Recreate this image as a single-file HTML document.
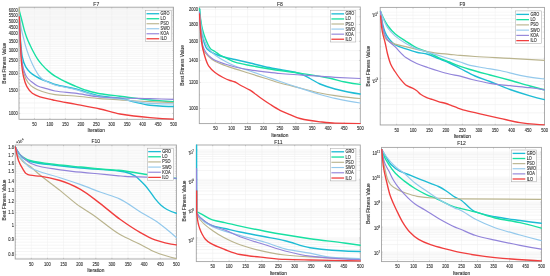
<!DOCTYPE html>
<html><head><meta charset="utf-8"><title>Convergence curves</title><style>html,body{margin:0;padding:0;background:#fff;width:550px;height:276px;overflow:hidden}svg{display:block}</style></head><body>
<svg width="550" height="276" viewBox="0 0 550 276" font-family="'Liberation Sans', Arial, sans-serif" stroke-linecap="butt">
<style>text{stroke:#333;stroke-width:0.1px}</style>
<rect width="550" height="276" fill="#fff"/>
<clipPath id="c1"><rect x="18.30" y="6.50" width="155.90" height="113.50"/></clipPath>
<path d="M19.00,107.92H173.50M19.00,102.92H173.50M19.00,98.31H173.50M19.00,94.05H173.50M19.00,86.37H173.50M19.00,82.89H173.50M19.00,79.60H173.50M19.00,76.49H173.50M19.00,70.74H173.50M19.00,68.06H173.50M19.00,65.51H173.50M19.00,63.06H173.50M19.00,58.46H173.50M19.00,56.29H173.50M19.00,54.20H173.50M19.00,52.18H173.50M19.00,48.34H173.50M19.00,46.52H173.50M19.00,44.75H173.50M19.00,43.03H173.50M19.00,39.75H173.50M19.00,38.17H173.50M19.00,36.64H173.50M19.00,35.14H173.50M19.00,32.27H173.50M19.00,30.88H173.50M19.00,29.53H173.50M19.00,28.21H173.50M19.00,25.65H173.50M19.00,24.41H173.50M19.00,23.20H173.50M19.00,22.02H173.50M19.00,19.72H173.50M19.00,18.60H173.50M19.00,17.51H173.50M19.00,16.43H173.50M19.00,14.34H173.50M19.00,13.32H173.50M19.00,12.32H173.50M19.00,11.34H173.50M19.00,9.42H173.50M19.00,8.49H173.50M19.00,7.57H173.50" stroke="#eaeaea" stroke-width="0.5" fill="none"/>
<path d="M34.45,7.20V119.30M49.90,7.20V119.30M65.35,7.20V119.30M80.80,7.20V119.30M96.25,7.20V119.30M111.70,7.20V119.30M127.15,7.20V119.30M142.60,7.20V119.30M158.05,7.20V119.30M19.00,113.40H173.50M19.00,90.09H173.50M19.00,73.54H173.50M19.00,60.71H173.50M19.00,50.23H173.50M19.00,41.37H173.50M19.00,33.69H173.50M19.00,26.91H173.50M19.00,20.86H173.50M19.00,15.38H173.50M19.00,10.37H173.50" stroke="#efefef" stroke-width="0.5" fill="none"/>
<rect x="19.00" y="7.20" width="154.50" height="112.10" fill="none" stroke="#a4a4a4" stroke-width="0.9"/>
<path d="M34.45,119.30V118.10M34.45,7.20V8.40M49.90,119.30V118.10M49.90,7.20V8.40M65.35,119.30V118.10M65.35,7.20V8.40M80.80,119.30V118.10M80.80,7.20V8.40M96.25,119.30V118.10M96.25,7.20V8.40M111.70,119.30V118.10M111.70,7.20V8.40M127.15,119.30V118.10M127.15,7.20V8.40M142.60,119.30V118.10M142.60,7.20V8.40M158.05,119.30V118.10M158.05,7.20V8.40M19.00,113.40H20.20M173.50,113.40H172.30M19.00,90.09H20.20M173.50,90.09H172.30M19.00,73.54H20.20M173.50,73.54H172.30M19.00,60.71H20.20M173.50,60.71H172.30M19.00,50.23H20.20M173.50,50.23H172.30M19.00,41.37H20.20M173.50,41.37H172.30M19.00,33.69H20.20M173.50,33.69H172.30M19.00,26.91H20.20M173.50,26.91H172.30M19.00,20.86H20.20M173.50,20.86H172.30M19.00,15.38H20.20M173.50,15.38H172.30M19.00,10.37H20.20M173.50,10.37H172.30" stroke="#a4a4a4" stroke-width="0.5" fill="none"/>
<path d="M19.00,107.92H19.80M173.50,107.92H172.70M19.00,102.92H19.80M173.50,102.92H172.70M19.00,98.31H19.80M173.50,98.31H172.70M19.00,94.05H19.80M173.50,94.05H172.70M19.00,86.37H19.80M173.50,86.37H172.70M19.00,82.89H19.80M173.50,82.89H172.70M19.00,79.60H19.80M173.50,79.60H172.70M19.00,76.49H19.80M173.50,76.49H172.70M19.00,70.74H19.80M173.50,70.74H172.70M19.00,68.06H19.80M173.50,68.06H172.70M19.00,65.51H19.80M173.50,65.51H172.70M19.00,63.06H19.80M173.50,63.06H172.70M19.00,58.46H19.80M173.50,58.46H172.70M19.00,56.29H19.80M173.50,56.29H172.70M19.00,54.20H19.80M173.50,54.20H172.70M19.00,52.18H19.80M173.50,52.18H172.70M19.00,48.34H19.80M173.50,48.34H172.70M19.00,46.52H19.80M173.50,46.52H172.70M19.00,44.75H19.80M173.50,44.75H172.70M19.00,43.03H19.80M173.50,43.03H172.70M19.00,39.75H19.80M173.50,39.75H172.70M19.00,38.17H19.80M173.50,38.17H172.70M19.00,36.64H19.80M173.50,36.64H172.70M19.00,35.14H19.80M173.50,35.14H172.70M19.00,32.27H19.80M173.50,32.27H172.70M19.00,30.88H19.80M173.50,30.88H172.70M19.00,29.53H19.80M173.50,29.53H172.70M19.00,28.21H19.80M173.50,28.21H172.70M19.00,25.65H19.80M173.50,25.65H172.70M19.00,24.41H19.80M173.50,24.41H172.70M19.00,23.20H19.80M173.50,23.20H172.70M19.00,22.02H19.80M173.50,22.02H172.70M19.00,19.72H19.80M173.50,19.72H172.70M19.00,18.60H19.80M173.50,18.60H172.70M19.00,17.51H19.80M173.50,17.51H172.70M19.00,16.43H19.80M173.50,16.43H172.70M19.00,14.34H19.80M173.50,14.34H172.70M19.00,13.32H19.80M173.50,13.32H172.70M19.00,12.32H19.80M173.50,12.32H172.70M19.00,11.34H19.80M173.50,11.34H172.70M19.00,9.42H19.80M173.50,9.42H172.70M19.00,8.49H19.80M173.50,8.49H172.70M19.00,7.57H19.80M173.50,7.57H172.70" stroke="#a4a4a4" stroke-width="0.45" fill="none"/>
<g clip-path="url(#c1)" fill="none" stroke-width="1.40" stroke-linejoin="round" stroke-linecap="round">
<path d="M19.30,22.00 C19.73,29.72 20.17,36.75 20.60,41.70 C21.17,48.17 21.73,54.35 22.30,57.00 C23.40,62.15 24.50,64.73 25.60,66.70 C27.07,69.32 28.53,70.84 30.00,72.20 C31.80,73.86 33.60,75.00 35.40,76.10 C37.57,77.42 39.73,78.56 41.90,79.50 C44.13,80.47 46.37,81.15 48.60,82.00 C50.73,82.81 52.87,83.88 55.00,84.50 C61.67,86.45 68.33,87.17 75.00,88.80 C83.33,90.84 91.67,94.65 100.00,96.00 C106.67,97.08 113.33,97.24 120.00,98.30 C125.00,99.10 130.00,100.86 135.00,102.00 C140.00,103.14 145.00,104.74 150.00,105.20 C157.77,105.92 165.53,106.50 173.30,106.50" stroke="#1ebcd4" stroke-width="1.40"/>
<path d="M19.30,10.70 C20.30,14.46 21.30,18.30 22.30,22.20 C23.03,25.06 23.77,28.42 24.50,30.90 C25.23,33.38 25.97,35.49 26.70,37.40 C27.80,40.27 28.90,42.63 30.00,45.00 C31.07,47.30 32.13,49.50 33.20,51.50 C34.67,54.25 36.13,56.95 37.60,59.10 C39.03,61.21 40.47,62.98 41.90,64.60 C44.07,67.05 46.23,69.23 48.40,71.10 C50.60,73.00 52.80,74.70 55.00,76.10 C58.33,78.23 61.67,79.86 65.00,81.50 C68.33,83.14 71.67,84.63 75.00,86.00 C79.00,87.64 83.00,89.29 87.00,90.50 C91.33,91.82 95.67,93.08 100.00,93.80 C106.67,94.91 113.33,95.38 120.00,96.20 C130.00,97.43 140.00,99.08 150.00,100.00 C157.77,100.71 165.53,101.32 173.30,101.70" stroke="#18e0a2" stroke-width="1.40"/>
<path d="M19.30,8.00 C19.53,21.26 19.77,35.13 20.00,40.00 C20.47,49.74 20.93,53.17 21.40,57.40 C22.13,64.05 22.87,69.96 23.60,72.60 C25.07,77.88 26.53,80.55 28.00,82.50 C29.80,84.90 31.60,86.36 33.40,87.50 C36.30,89.33 39.20,90.57 42.10,91.50 C46.40,92.89 50.70,94.11 55.00,94.60 C61.67,95.35 68.33,95.45 75.00,96.00 C83.33,96.69 91.67,97.97 100.00,98.60 C106.67,99.10 113.33,99.39 120.00,99.80 C130.00,100.42 140.00,101.22 150.00,101.70 C157.77,102.07 165.53,102.38 173.30,102.60" stroke="#bab48e" stroke-width="1.20"/>
<path d="M19.30,14.80 C19.97,20.35 20.63,25.23 21.30,28.70 C22.00,32.34 22.70,34.57 23.40,37.40 C24.13,40.37 24.87,43.59 25.60,46.10 C26.70,49.87 27.80,53.00 28.90,55.90 C29.97,58.71 31.03,61.20 32.10,63.50 C33.20,65.87 34.30,68.03 35.40,70.00 C36.50,71.97 37.60,74.01 38.70,75.40 C39.77,76.75 40.83,77.89 41.90,78.70 C44.13,80.39 46.37,81.47 48.60,82.50 C50.73,83.49 52.87,84.38 55.00,85.00 C61.67,86.95 68.33,87.64 75.00,89.30 C83.33,91.37 91.67,95.48 100.00,96.80 C106.67,97.86 113.33,98.18 120.00,99.00 C130.00,100.23 140.00,102.88 150.00,103.30 C157.77,103.63 165.53,103.90 173.30,103.90" stroke="#94c9ec" stroke-width="1.20"/>
<path d="M19.30,28.00 C19.70,34.29 20.10,40.18 20.50,45.00 C21.10,52.22 21.70,60.02 22.30,63.50 C23.03,67.75 23.77,70.14 24.50,72.20 C25.23,74.26 25.97,75.95 26.70,77.00 C28.20,79.15 29.70,80.26 31.20,81.50 C33.37,83.29 35.53,85.08 37.70,86.00 C40.60,87.23 43.50,87.76 46.40,88.60 C49.27,89.43 52.13,90.52 55.00,91.00 C61.67,92.12 68.33,92.35 75.00,93.20 C83.33,94.26 91.67,96.38 100.00,97.00 C106.67,97.49 113.33,97.78 120.00,98.00 C130.00,98.33 140.00,98.45 150.00,98.70 C157.77,98.89 165.53,99.09 173.30,99.30" stroke="#9284da" stroke-width="1.20"/>
<path d="M19.30,16.80 C19.63,25.08 19.97,32.88 20.30,40.00 C20.67,47.83 21.03,57.72 21.40,61.70 C22.13,69.67 22.87,73.89 23.60,77.00 C24.70,81.67 25.80,84.74 26.90,86.70 C28.70,89.91 30.50,92.06 32.30,93.30 C34.83,95.04 37.37,95.99 39.90,96.80 C43.53,97.96 47.17,98.53 50.80,99.40 C52.20,99.73 53.60,100.10 55.00,100.40 C61.67,101.83 68.33,102.83 75.00,104.10 C83.33,105.68 91.67,107.16 100.00,109.00 C106.67,110.47 113.33,112.89 120.00,114.00 C130.00,115.66 140.00,116.74 150.00,117.60 C157.77,118.27 165.53,118.84 173.30,119.20" stroke="#f03e3e" stroke-width="1.35"/>
</g>
<text transform="translate(34.45,125.85) scale(0.92,1.08)" font-size="4.40" text-anchor="middle" fill="#2a2a2a">50</text>
<text transform="translate(49.90,125.85) scale(0.92,1.08)" font-size="4.40" text-anchor="middle" fill="#2a2a2a">100</text>
<text transform="translate(65.35,125.85) scale(0.92,1.08)" font-size="4.40" text-anchor="middle" fill="#2a2a2a">150</text>
<text transform="translate(80.80,125.85) scale(0.92,1.08)" font-size="4.40" text-anchor="middle" fill="#2a2a2a">200</text>
<text transform="translate(96.25,125.85) scale(0.92,1.08)" font-size="4.40" text-anchor="middle" fill="#2a2a2a">250</text>
<text transform="translate(111.70,125.85) scale(0.92,1.08)" font-size="4.40" text-anchor="middle" fill="#2a2a2a">300</text>
<text transform="translate(127.15,125.85) scale(0.92,1.08)" font-size="4.40" text-anchor="middle" fill="#2a2a2a">350</text>
<text transform="translate(142.60,125.85) scale(0.92,1.08)" font-size="4.40" text-anchor="middle" fill="#2a2a2a">400</text>
<text transform="translate(158.05,125.85) scale(0.92,1.08)" font-size="4.40" text-anchor="middle" fill="#2a2a2a">450</text>
<text transform="translate(173.50,125.85) scale(0.92,1.08)" font-size="4.40" text-anchor="middle" fill="#2a2a2a">500</text>
<text transform="translate(17.70,115.05) scale(0.92,1.08)" font-size="4.40" text-anchor="end" fill="#2a2a2a">1000</text>
<text transform="translate(17.70,91.74) scale(0.92,1.08)" font-size="4.40" text-anchor="end" fill="#2a2a2a">1500</text>
<text transform="translate(17.70,75.19) scale(0.92,1.08)" font-size="4.40" text-anchor="end" fill="#2a2a2a">2000</text>
<text transform="translate(17.70,62.36) scale(0.92,1.08)" font-size="4.40" text-anchor="end" fill="#2a2a2a">2500</text>
<text transform="translate(17.70,51.88) scale(0.92,1.08)" font-size="4.40" text-anchor="end" fill="#2a2a2a">3000</text>
<text transform="translate(17.70,43.02) scale(0.92,1.08)" font-size="4.40" text-anchor="end" fill="#2a2a2a">3500</text>
<text transform="translate(17.70,35.34) scale(0.92,1.08)" font-size="4.40" text-anchor="end" fill="#2a2a2a">4000</text>
<text transform="translate(17.70,28.56) scale(0.92,1.08)" font-size="4.40" text-anchor="end" fill="#2a2a2a">4500</text>
<text transform="translate(17.70,22.51) scale(0.92,1.08)" font-size="4.40" text-anchor="end" fill="#2a2a2a">5000</text>
<text transform="translate(17.70,17.03) scale(0.92,1.08)" font-size="4.40" text-anchor="end" fill="#2a2a2a">5500</text>
<text transform="translate(17.70,12.02) scale(0.92,1.08)" font-size="4.40" text-anchor="end" fill="#2a2a2a">6000</text>
<text transform="translate(96.25,5.50)" font-size="5.00" text-anchor="middle" fill="#262626" style="stroke-width:0.08px">F7</text>
<text transform="translate(96.25,131.70) scale(1,1.03)" font-size="4.80" text-anchor="middle" fill="#2a2a2a">Iteration</text>
<text transform="translate(5.90,63.25) rotate(-90)" font-size="4.95" text-anchor="middle" fill="#2a2a2a">Best Fitness Value</text>
<rect x="145.60" y="10.40" width="25.60" height="31.10" fill="#fff" stroke="#a4a4a4" stroke-width="0.5"/>
<line x1="146.50" y1="13.73" x2="159.20" y2="13.73" stroke="#1ebcd4" stroke-width="1.33"/>
<text transform="translate(160.60,15.23) scale(0.97,1.12)" font-size="4.00" fill="#2a2a2a">GRO</text>
<line x1="146.50" y1="18.73" x2="159.20" y2="18.73" stroke="#18e0a2" stroke-width="1.33"/>
<text transform="translate(160.60,20.23) scale(0.97,1.12)" font-size="4.00" fill="#2a2a2a">LO</text>
<line x1="146.50" y1="23.74" x2="159.20" y2="23.74" stroke="#bab48e" stroke-width="1.14"/>
<text transform="translate(160.60,25.24) scale(0.97,1.12)" font-size="4.00" fill="#2a2a2a">PSO</text>
<line x1="146.50" y1="28.75" x2="159.20" y2="28.75" stroke="#94c9ec" stroke-width="1.14"/>
<text transform="translate(160.60,30.25) scale(0.97,1.12)" font-size="4.00" fill="#2a2a2a">SWO</text>
<line x1="146.50" y1="33.76" x2="159.20" y2="33.76" stroke="#9284da" stroke-width="1.14"/>
<text transform="translate(160.60,35.26) scale(0.97,1.12)" font-size="4.00" fill="#2a2a2a">KOA</text>
<line x1="146.50" y1="38.76" x2="159.20" y2="38.76" stroke="#f03e3e" stroke-width="1.28"/>
<text transform="translate(160.60,40.26) scale(0.97,1.12)" font-size="4.00" fill="#2a2a2a">ILO</text>
<clipPath id="c2"><rect x="198.60" y="6.30" width="162.40" height="118.00"/></clipPath>
<path d="M199.30,123.55H360.30M199.30,94.88H360.30M199.30,71.01H360.30M199.30,50.57H360.30M199.30,32.68H360.30M199.30,16.79H360.30" stroke="#eaeaea" stroke-width="0.5" fill="none"/>
<path d="M215.40,7.00V123.60M231.50,7.00V123.60M247.60,7.00V123.60M263.70,7.00V123.60M279.80,7.00V123.60M295.90,7.00V123.60M312.00,7.00V123.60M328.10,7.00V123.60M344.20,7.00V123.60M199.30,108.50H360.30M199.30,82.45H360.30M199.30,60.42H360.30M199.30,41.34H360.30M199.30,24.52H360.30M199.30,9.46H360.30" stroke="#efefef" stroke-width="0.5" fill="none"/>
<rect x="199.30" y="7.00" width="161.00" height="116.60" fill="none" stroke="#a4a4a4" stroke-width="0.9"/>
<path d="M215.40,123.60V122.40M215.40,7.00V8.20M231.50,123.60V122.40M231.50,7.00V8.20M247.60,123.60V122.40M247.60,7.00V8.20M263.70,123.60V122.40M263.70,7.00V8.20M279.80,123.60V122.40M279.80,7.00V8.20M295.90,123.60V122.40M295.90,7.00V8.20M312.00,123.60V122.40M312.00,7.00V8.20M328.10,123.60V122.40M328.10,7.00V8.20M344.20,123.60V122.40M344.20,7.00V8.20M199.30,108.50H200.50M360.30,108.50H359.10M199.30,82.45H200.50M360.30,82.45H359.10M199.30,60.42H200.50M360.30,60.42H359.10M199.30,41.34H200.50M360.30,41.34H359.10M199.30,24.52H200.50M360.30,24.52H359.10M199.30,9.46H200.50M360.30,9.46H359.10" stroke="#a4a4a4" stroke-width="0.5" fill="none"/>
<path d="M199.30,123.55H200.10M360.30,123.55H359.50M199.30,94.88H200.10M360.30,94.88H359.50M199.30,71.01H200.10M360.30,71.01H359.50M199.30,50.57H200.10M360.30,50.57H359.50M199.30,32.68H200.10M360.30,32.68H359.50M199.30,16.79H200.10M360.30,16.79H359.50" stroke="#a4a4a4" stroke-width="0.45" fill="none"/>
<g clip-path="url(#c2)" fill="none" stroke-width="1.40" stroke-linejoin="round" stroke-linecap="round">
<path d="M199.50,8.80 C200.10,16.59 200.70,23.98 201.30,28.20 C202.27,35.00 203.23,39.77 204.20,42.70 C205.17,45.63 206.13,47.96 207.10,49.00 C209.73,51.82 212.37,52.84 215.00,54.00 C218.33,55.46 221.67,56.42 225.00,57.30 C228.33,58.18 231.67,58.75 235.00,59.50 C240.00,60.63 245.00,61.80 250.00,63.00 C255.00,64.20 260.00,65.64 265.00,66.70 C270.00,67.76 275.00,68.58 280.00,69.50 C285.00,70.42 290.00,71.06 295.00,72.20 C296.67,72.58 298.33,73.02 300.00,73.60 C303.33,74.75 306.67,76.77 310.00,78.50 C313.33,80.23 316.67,82.59 320.00,84.00 C325.00,86.11 330.00,87.64 335.00,89.00 C339.33,90.18 343.67,91.17 348.00,92.00 C352.07,92.78 356.13,93.46 360.20,94.00" stroke="#1ebcd4" stroke-width="1.40"/>
<path d="M199.50,8.80 C199.97,13.79 200.43,18.24 200.90,21.30 C201.43,24.79 201.97,27.35 202.50,29.50 C203.33,32.86 204.17,35.34 205.00,37.60 C206.07,40.50 207.13,43.00 208.20,45.00 C209.03,46.56 209.87,48.26 210.70,49.00 C212.13,50.27 213.57,50.59 215.00,51.50 C216.67,52.56 218.33,54.02 220.00,55.00 C222.67,56.58 225.33,57.75 228.00,59.00 C230.33,60.09 232.67,61.37 235.00,62.10 C240.00,63.66 245.00,64.50 250.00,65.50 C255.00,66.50 260.00,67.37 265.00,68.20 C270.00,69.03 275.00,69.77 280.00,70.50 C286.67,71.48 293.33,72.29 300.00,73.30 C310.00,74.81 320.00,76.27 330.00,78.30 C335.00,79.32 340.00,81.04 345.00,82.00 C350.07,82.98 355.13,83.83 360.20,84.40" stroke="#18e0a2" stroke-width="1.40"/>
<path d="M199.50,14.00 C200.17,21.05 200.83,28.04 201.50,35.00 C201.93,39.52 202.37,47.09 202.80,48.50 C203.77,51.64 204.73,52.28 205.70,53.50 C207.63,55.94 209.57,57.52 211.50,59.00 C212.67,59.89 213.83,60.68 215.00,61.30 C218.33,63.07 221.67,64.25 225.00,65.50 C228.33,66.75 231.67,67.82 235.00,68.90 C240.00,70.52 245.00,71.93 250.00,73.50 C255.00,75.07 260.00,76.72 265.00,78.30 C270.00,79.88 275.00,81.60 280.00,83.00 C286.67,84.86 293.33,86.33 300.00,88.00 C306.67,89.67 313.33,91.65 320.00,93.00 C325.00,94.01 330.00,94.90 335.00,95.60 C343.40,96.78 351.80,97.84 360.20,98.50" stroke="#bab48e" stroke-width="1.20"/>
<path d="M199.50,12.00 C200.17,18.36 200.83,24.18 201.50,28.00 C202.40,33.16 203.30,37.27 204.20,39.80 C205.67,43.92 207.13,46.49 208.60,48.50 C210.73,51.42 212.87,53.32 215.00,55.00 C218.67,57.88 222.33,59.86 226.00,61.80 C229.00,63.39 232.00,64.82 235.00,66.00 C240.00,67.97 245.00,69.30 250.00,71.00 C255.00,72.70 260.00,74.45 265.00,76.20 C270.00,77.95 275.00,79.79 280.00,81.50 C286.67,83.78 293.33,85.93 300.00,88.10 C306.67,90.27 313.33,92.60 320.00,94.50 C325.00,95.93 330.00,97.31 335.00,98.40 C343.40,100.23 351.80,101.87 360.20,103.00" stroke="#94c9ec" stroke-width="1.20"/>
<path d="M199.50,12.00 C199.63,15.76 199.77,20.52 199.90,22.40 C200.87,36.05 201.83,42.26 202.80,45.60 C203.77,48.94 204.73,50.58 205.70,52.00 C207.63,54.84 209.57,56.52 211.50,58.00 C212.67,58.89 213.83,59.62 215.00,60.20 C218.33,61.84 221.67,62.88 225.00,64.00 C228.33,65.12 231.67,66.22 235.00,67.00 C240.00,68.17 245.00,69.02 250.00,69.80 C255.00,70.58 260.00,71.19 265.00,71.80 C270.00,72.41 275.00,73.06 280.00,73.50 C286.67,74.08 293.33,74.44 300.00,74.90 C311.67,75.71 323.33,76.65 335.00,77.30 C343.40,77.77 351.80,78.17 360.20,78.50" stroke="#9284da" stroke-width="1.20"/>
<path d="M199.50,13.90 C200.10,24.69 200.70,35.17 201.30,39.80 C202.27,47.26 203.23,50.89 204.20,54.30 C205.67,59.47 207.13,63.67 208.60,65.90 C210.73,69.15 212.87,70.84 215.00,72.50 C217.70,74.61 220.40,76.13 223.10,77.50 C225.40,78.67 227.70,79.69 230.00,80.50 C231.67,81.09 233.33,81.33 235.00,82.00 C236.67,82.67 238.33,84.06 240.00,85.00 C243.33,86.87 246.67,88.18 250.00,90.20 C253.33,92.22 256.67,95.15 260.00,97.50 C263.33,99.85 266.67,102.17 270.00,104.30 C273.33,106.42 276.67,108.63 280.00,110.30 C283.33,111.97 286.67,113.24 290.00,114.60 C293.33,115.96 296.67,117.69 300.00,118.50 C306.67,120.12 313.33,121.02 320.00,121.80 C325.00,122.39 330.00,123.06 335.00,123.20 C343.40,123.44 351.80,123.60 360.20,123.60" stroke="#f03e3e" stroke-width="1.35"/>
</g>
<text transform="translate(215.40,130.05) scale(0.92,1.08)" font-size="4.40" text-anchor="middle" fill="#2a2a2a">50</text>
<text transform="translate(231.50,130.05) scale(0.92,1.08)" font-size="4.40" text-anchor="middle" fill="#2a2a2a">100</text>
<text transform="translate(247.60,130.05) scale(0.92,1.08)" font-size="4.40" text-anchor="middle" fill="#2a2a2a">150</text>
<text transform="translate(263.70,130.05) scale(0.92,1.08)" font-size="4.40" text-anchor="middle" fill="#2a2a2a">200</text>
<text transform="translate(279.80,130.05) scale(0.92,1.08)" font-size="4.40" text-anchor="middle" fill="#2a2a2a">250</text>
<text transform="translate(295.90,130.05) scale(0.92,1.08)" font-size="4.40" text-anchor="middle" fill="#2a2a2a">300</text>
<text transform="translate(312.00,130.05) scale(0.92,1.08)" font-size="4.40" text-anchor="middle" fill="#2a2a2a">350</text>
<text transform="translate(328.10,130.05) scale(0.92,1.08)" font-size="4.40" text-anchor="middle" fill="#2a2a2a">400</text>
<text transform="translate(344.20,130.05) scale(0.92,1.08)" font-size="4.40" text-anchor="middle" fill="#2a2a2a">450</text>
<text transform="translate(360.30,130.05) scale(0.92,1.08)" font-size="4.40" text-anchor="middle" fill="#2a2a2a">500</text>
<text transform="translate(198.00,110.15) scale(0.92,1.08)" font-size="4.40" text-anchor="end" fill="#2a2a2a">1000</text>
<text transform="translate(198.00,84.10) scale(0.92,1.08)" font-size="4.40" text-anchor="end" fill="#2a2a2a">1200</text>
<text transform="translate(198.00,62.07) scale(0.92,1.08)" font-size="4.40" text-anchor="end" fill="#2a2a2a">1400</text>
<text transform="translate(198.00,42.99) scale(0.92,1.08)" font-size="4.40" text-anchor="end" fill="#2a2a2a">1600</text>
<text transform="translate(198.00,26.17) scale(0.92,1.08)" font-size="4.40" text-anchor="end" fill="#2a2a2a">1800</text>
<text transform="translate(198.00,11.11) scale(0.92,1.08)" font-size="4.40" text-anchor="end" fill="#2a2a2a">2000</text>
<text transform="translate(279.80,5.50)" font-size="5.00" text-anchor="middle" fill="#262626" style="stroke-width:0.08px">F8</text>
<text transform="translate(279.80,136.90) scale(1,1.03)" font-size="4.80" text-anchor="middle" fill="#2a2a2a">Iteration</text>
<text transform="translate(183.90,65.30) rotate(-90)" font-size="4.95" text-anchor="middle" fill="#2a2a2a">Best Fitness Value</text>
<rect x="330.50" y="10.50" width="25.30" height="31.50" fill="#fff" stroke="#a4a4a4" stroke-width="0.5"/>
<line x1="331.40" y1="13.87" x2="344.10" y2="13.87" stroke="#1ebcd4" stroke-width="1.33"/>
<text transform="translate(345.50,15.37) scale(0.97,1.12)" font-size="4.00" fill="#2a2a2a">GRO</text>
<line x1="331.40" y1="18.94" x2="344.10" y2="18.94" stroke="#18e0a2" stroke-width="1.33"/>
<text transform="translate(345.50,20.44) scale(0.97,1.12)" font-size="4.00" fill="#2a2a2a">LO</text>
<line x1="331.40" y1="24.01" x2="344.10" y2="24.01" stroke="#bab48e" stroke-width="1.14"/>
<text transform="translate(345.50,25.51) scale(0.97,1.12)" font-size="4.00" fill="#2a2a2a">PSO</text>
<line x1="331.40" y1="29.08" x2="344.10" y2="29.08" stroke="#94c9ec" stroke-width="1.14"/>
<text transform="translate(345.50,30.58) scale(0.97,1.12)" font-size="4.00" fill="#2a2a2a">SWO</text>
<line x1="331.40" y1="34.16" x2="344.10" y2="34.16" stroke="#9284da" stroke-width="1.14"/>
<text transform="translate(345.50,35.66) scale(0.97,1.12)" font-size="4.00" fill="#2a2a2a">KOA</text>
<line x1="331.40" y1="39.23" x2="344.10" y2="39.23" stroke="#f03e3e" stroke-width="1.28"/>
<text transform="translate(345.50,40.73) scale(0.97,1.12)" font-size="4.00" fill="#2a2a2a">ILO</text>
<clipPath id="c3"><rect x="379.50" y="6.70" width="165.70" height="119.00"/></clipPath>
<path d="M380.20,124.50H544.50M380.20,112.86H544.50M380.20,104.60H544.50M380.20,98.20H544.50M380.20,92.96H544.50M380.20,88.54H544.50M380.20,84.71H544.50M380.20,81.32H544.50M380.20,58.40H544.50M380.20,46.76H544.50M380.20,38.50H544.50M380.20,32.10H544.50M380.20,26.86H544.50M380.20,22.44H544.50M380.20,18.61H544.50M380.20,15.22H544.50" stroke="#eaeaea" stroke-width="0.5" fill="none"/>
<path d="M396.63,7.40V125.00M413.06,7.40V125.00M429.49,7.40V125.00M445.92,7.40V125.00M462.35,7.40V125.00M478.78,7.40V125.00M495.21,7.40V125.00M511.64,7.40V125.00M528.07,7.40V125.00M380.20,78.30H544.50M380.20,12.20H544.50" stroke="#efefef" stroke-width="0.5" fill="none"/>
<rect x="380.20" y="7.40" width="164.30" height="117.60" fill="none" stroke="#a4a4a4" stroke-width="0.9"/>
<path d="M396.63,125.00V123.80M396.63,7.40V8.60M413.06,125.00V123.80M413.06,7.40V8.60M429.49,125.00V123.80M429.49,7.40V8.60M445.92,125.00V123.80M445.92,7.40V8.60M462.35,125.00V123.80M462.35,7.40V8.60M478.78,125.00V123.80M478.78,7.40V8.60M495.21,125.00V123.80M495.21,7.40V8.60M511.64,125.00V123.80M511.64,7.40V8.60M528.07,125.00V123.80M528.07,7.40V8.60M380.20,78.30H381.40M544.50,78.30H543.30M380.20,12.20H381.40M544.50,12.20H543.30" stroke="#a4a4a4" stroke-width="0.5" fill="none"/>
<path d="M380.20,124.50H381.00M544.50,124.50H543.70M380.20,112.86H381.00M544.50,112.86H543.70M380.20,104.60H381.00M544.50,104.60H543.70M380.20,98.20H381.00M544.50,98.20H543.70M380.20,92.96H381.00M544.50,92.96H543.70M380.20,88.54H381.00M544.50,88.54H543.70M380.20,84.71H381.00M544.50,84.71H543.70M380.20,81.32H381.00M544.50,81.32H543.70M380.20,58.40H381.00M544.50,58.40H543.70M380.20,46.76H381.00M544.50,46.76H543.70M380.20,38.50H381.00M544.50,38.50H543.70M380.20,32.10H381.00M544.50,32.10H543.70M380.20,26.86H381.00M544.50,26.86H543.70M380.20,22.44H381.00M544.50,22.44H543.70M380.20,18.61H381.00M544.50,18.61H543.70M380.20,15.22H381.00M544.50,15.22H543.70" stroke="#a4a4a4" stroke-width="0.45" fill="none"/>
<g clip-path="url(#c3)" fill="none" stroke-width="1.40" stroke-linejoin="round" stroke-linecap="round">
<path d="M380.50,11.50 C381.57,18.60 382.63,24.63 383.70,28.20 C384.67,31.43 385.63,33.83 386.60,35.40 C389.40,39.94 392.20,42.94 395.00,44.60 C398.63,46.75 402.27,47.65 405.90,48.90 C409.50,50.14 413.10,51.35 416.70,52.20 C420.33,53.06 423.97,53.35 427.60,54.30 C431.23,55.25 434.87,57.24 438.50,58.70 C442.10,60.14 445.70,61.40 449.30,63.00 C452.93,64.62 456.57,66.66 460.20,68.50 C465.13,70.99 470.07,73.90 475.00,76.00 C480.00,78.13 485.00,79.59 490.00,81.50 C496.67,84.05 503.33,87.15 510.00,89.50 C516.67,91.85 523.33,93.89 530.00,95.80 C534.77,97.17 539.53,98.43 544.30,99.60" stroke="#1ebcd4" stroke-width="1.40"/>
<path d="M380.50,11.50 C383.00,17.41 385.50,22.51 388.00,26.00 C390.33,29.26 392.67,31.68 395.00,33.70 C398.63,36.85 402.27,38.95 405.90,41.30 C409.50,43.63 413.10,46.06 416.70,47.80 C420.33,49.56 423.97,50.58 427.60,52.20 C431.23,53.82 434.87,55.98 438.50,57.60 C442.10,59.21 445.70,60.56 449.30,62.00 C452.93,63.46 456.57,65.00 460.20,66.30 C463.47,67.47 466.73,68.52 470.00,69.50 C476.67,71.51 483.33,73.20 490.00,75.00 C496.67,76.80 503.33,78.47 510.00,80.30 C516.67,82.13 523.33,84.17 530.00,86.00 C534.77,87.31 539.53,88.57 544.30,89.80" stroke="#18e0a2" stroke-width="1.40"/>
<path d="M380.50,11.50 C381.67,21.81 382.83,30.23 384.00,34.00 C384.87,36.80 385.73,38.99 386.60,39.80 C389.40,42.42 392.20,43.17 395.00,44.10 C398.63,45.30 402.27,45.83 405.90,46.70 C409.50,47.56 413.10,48.51 416.70,49.30 C420.33,50.10 423.97,50.84 427.60,51.50 C431.23,52.16 434.87,52.87 438.50,53.30 C442.10,53.73 445.70,53.95 449.30,54.30 C452.93,54.65 456.57,55.09 460.20,55.40 C465.13,55.83 470.07,56.19 475.00,56.50 C486.67,57.23 498.33,57.66 510.00,58.30 C521.43,58.92 532.87,59.59 544.30,60.30" stroke="#bab48e" stroke-width="1.20"/>
<path d="M380.50,11.50 C383.00,18.52 385.50,24.53 388.00,28.20 C390.33,31.62 392.67,33.88 395.00,35.90 C398.63,39.05 402.27,41.38 405.90,43.50 C409.50,45.60 413.10,47.54 416.70,48.90 C420.33,50.27 423.97,51.12 427.60,52.20 C431.23,53.28 434.87,54.31 438.50,55.40 C442.10,56.48 445.70,57.61 449.30,58.70 C452.93,59.81 456.57,60.82 460.20,62.00 C463.47,63.06 466.73,64.63 470.00,65.40 C475.00,66.58 480.00,67.15 485.00,68.00 C490.00,68.85 495.00,69.52 500.00,70.50 C506.67,71.80 513.33,74.05 520.00,75.30 C528.10,76.82 536.20,78.16 544.30,79.00" stroke="#94c9ec" stroke-width="1.20"/>
<path d="M380.50,11.50 C381.57,20.00 382.63,27.23 383.70,31.00 C384.67,34.42 385.63,36.81 386.60,38.30 C389.40,42.61 392.20,43.90 395.00,46.70 C398.63,50.33 402.27,55.03 405.90,57.60 C409.50,60.14 413.10,61.92 416.70,63.50 C420.33,65.10 423.97,66.26 427.60,67.50 C431.23,68.74 434.87,69.92 438.50,71.00 C442.10,72.07 445.70,73.16 449.30,74.00 C452.93,74.85 456.57,75.35 460.20,76.20 C464.13,77.12 468.07,78.54 472.00,79.50 C478.00,80.96 484.00,82.38 490.00,83.30 C496.67,84.33 503.33,84.97 510.00,85.70 C516.67,86.43 523.33,86.90 530.00,87.70 C534.77,88.27 539.53,89.01 544.30,89.80" stroke="#9284da" stroke-width="1.20"/>
<path d="M380.50,15.90 C381.07,21.93 381.63,27.76 382.20,31.00 C383.20,36.72 384.20,38.63 385.20,43.00 C385.90,46.06 386.60,50.23 387.30,53.00 C388.40,57.35 389.50,61.37 390.60,63.90 C392.07,67.28 393.53,69.22 395.00,71.50 C396.80,74.30 398.60,76.97 400.40,79.10 C402.57,81.67 404.73,84.37 406.90,85.70 C408.93,86.95 410.97,87.33 413.00,88.40 C414.27,89.07 415.53,89.85 416.80,90.80 C418.07,91.75 419.33,93.42 420.60,94.30 C422.30,95.48 424.00,96.35 425.70,97.10 C427.40,97.85 429.10,98.39 430.80,99.00 C433.33,99.91 435.87,100.87 438.40,101.60 C440.93,102.33 443.47,102.73 446.00,103.50 C447.70,104.02 449.40,104.75 451.10,105.40 C453.20,106.21 455.30,107.13 457.40,107.90 C459.27,108.58 461.13,109.27 463.00,109.80 C468.67,111.42 474.33,112.50 480.00,113.80 C486.67,115.33 493.33,116.83 500.00,118.30 C506.67,119.77 513.33,121.74 520.00,122.60 C528.10,123.65 536.20,124.62 544.30,124.80" stroke="#f03e3e" stroke-width="1.35"/>
</g>
<text transform="translate(396.63,131.55) scale(0.92,1.08)" font-size="4.40" text-anchor="middle" fill="#2a2a2a">50</text>
<text transform="translate(413.06,131.55) scale(0.92,1.08)" font-size="4.40" text-anchor="middle" fill="#2a2a2a">100</text>
<text transform="translate(429.49,131.55) scale(0.92,1.08)" font-size="4.40" text-anchor="middle" fill="#2a2a2a">150</text>
<text transform="translate(445.92,131.55) scale(0.92,1.08)" font-size="4.40" text-anchor="middle" fill="#2a2a2a">200</text>
<text transform="translate(462.35,131.55) scale(0.92,1.08)" font-size="4.40" text-anchor="middle" fill="#2a2a2a">250</text>
<text transform="translate(478.78,131.55) scale(0.92,1.08)" font-size="4.40" text-anchor="middle" fill="#2a2a2a">300</text>
<text transform="translate(495.21,131.55) scale(0.92,1.08)" font-size="4.40" text-anchor="middle" fill="#2a2a2a">350</text>
<text transform="translate(511.64,131.55) scale(0.92,1.08)" font-size="4.40" text-anchor="middle" fill="#2a2a2a">400</text>
<text transform="translate(528.07,131.55) scale(0.92,1.08)" font-size="4.40" text-anchor="middle" fill="#2a2a2a">450</text>
<text transform="translate(544.50,131.55) scale(0.92,1.08)" font-size="4.40" text-anchor="middle" fill="#2a2a2a">500</text>
<text transform="translate(378.70,81.35) rotate(-15) scale(0.92,1.08)" font-size="4.40" text-anchor="end" fill="#2a2a2a">10<tspan font-size="3.08" dy="-1.6">3</tspan></text>
<text transform="translate(378.70,15.25) rotate(-15) scale(0.92,1.08)" font-size="4.40" text-anchor="end" fill="#2a2a2a">10<tspan font-size="3.08" dy="-1.6">4</tspan></text>
<text transform="translate(462.35,5.50)" font-size="5.00" text-anchor="middle" fill="#262626" style="stroke-width:0.08px">F9</text>
<text transform="translate(462.35,138.40) scale(1,1.03)" font-size="4.80" text-anchor="middle" fill="#2a2a2a">Iteration</text>
<text transform="translate(370.10,66.20) rotate(-90)" font-size="4.95" text-anchor="middle" fill="#2a2a2a">Best Fitness Value</text>
<rect x="515.40" y="10.90" width="25.90" height="32.60" fill="#fff" stroke="#a4a4a4" stroke-width="0.5"/>
<line x1="516.30" y1="14.39" x2="529.00" y2="14.39" stroke="#1ebcd4" stroke-width="1.33"/>
<text transform="translate(530.40,15.89) scale(0.97,1.12)" font-size="4.00" fill="#2a2a2a">GRO</text>
<line x1="516.30" y1="19.64" x2="529.00" y2="19.64" stroke="#18e0a2" stroke-width="1.33"/>
<text transform="translate(530.40,21.14) scale(0.97,1.12)" font-size="4.00" fill="#2a2a2a">LO</text>
<line x1="516.30" y1="24.89" x2="529.00" y2="24.89" stroke="#bab48e" stroke-width="1.14"/>
<text transform="translate(530.40,26.39) scale(0.97,1.12)" font-size="4.00" fill="#2a2a2a">PSO</text>
<line x1="516.30" y1="30.13" x2="529.00" y2="30.13" stroke="#94c9ec" stroke-width="1.14"/>
<text transform="translate(530.40,31.63) scale(0.97,1.12)" font-size="4.00" fill="#2a2a2a">SWO</text>
<line x1="516.30" y1="35.38" x2="529.00" y2="35.38" stroke="#9284da" stroke-width="1.14"/>
<text transform="translate(530.40,36.88) scale(0.97,1.12)" font-size="4.00" fill="#2a2a2a">KOA</text>
<line x1="516.30" y1="40.63" x2="529.00" y2="40.63" stroke="#f03e3e" stroke-width="1.28"/>
<text transform="translate(530.40,42.13) scale(0.97,1.12)" font-size="4.00" fill="#2a2a2a">ILO</text>
<clipPath id="c4"><rect x="14.50" y="144.30" width="162.60" height="115.40"/></clipPath>
<path d="M15.20,258.10H176.40M15.20,251.50H176.40M15.20,248.32H176.40M15.20,245.21H176.40M15.20,242.18H176.40M15.20,236.31H176.40M15.20,233.47H176.40M15.20,230.69H176.40M15.20,227.97H176.40M15.20,222.69H176.40M15.20,220.12H176.40M15.20,217.61H176.40M15.20,215.14H176.40M15.20,210.34H176.40M15.20,208.00H176.40M15.20,205.70H176.40M15.20,203.45H176.40M15.20,199.05H176.40M15.20,196.90H176.40M15.20,194.79H176.40M15.20,192.71H176.40M15.20,188.65H176.40M15.20,186.66H176.40M15.20,184.70H176.40M15.20,182.78H176.40M15.20,179.00H176.40M15.20,177.16H176.40M15.20,175.34H176.40M15.20,173.54H176.40M15.20,170.02H176.40M15.20,168.29H176.40M15.20,166.59H176.40M15.20,164.91H176.40M15.20,161.61H176.40M15.20,159.99H176.40M15.20,158.39H176.40M15.20,156.81H176.40M15.20,153.70H176.40M15.20,152.17H176.40M15.20,150.66H176.40M15.20,149.17H176.40M15.20,146.24H176.40" stroke="#eaeaea" stroke-width="0.5" fill="none"/>
<path d="M31.32,145.00V259.00M47.44,145.00V259.00M63.56,145.00V259.00M79.68,145.00V259.00M95.80,145.00V259.00M111.92,145.00V259.00M128.04,145.00V259.00M144.16,145.00V259.00M160.28,145.00V259.00M15.20,254.76H176.40M15.20,239.21H176.40M15.20,225.30H176.40M15.20,212.72H176.40M15.20,201.23H176.40M15.20,190.66H176.40M15.20,180.88H176.40M15.20,171.77H176.40M15.20,163.25H176.40M15.20,155.24H176.40M15.20,147.70H176.40" stroke="#efefef" stroke-width="0.5" fill="none"/>
<rect x="15.20" y="145.00" width="161.20" height="114.00" fill="none" stroke="#a4a4a4" stroke-width="0.9"/>
<path d="M31.32,259.00V257.80M31.32,145.00V146.20M47.44,259.00V257.80M47.44,145.00V146.20M63.56,259.00V257.80M63.56,145.00V146.20M79.68,259.00V257.80M79.68,145.00V146.20M95.80,259.00V257.80M95.80,145.00V146.20M111.92,259.00V257.80M111.92,145.00V146.20M128.04,259.00V257.80M128.04,145.00V146.20M144.16,259.00V257.80M144.16,145.00V146.20M160.28,259.00V257.80M160.28,145.00V146.20M15.20,254.76H16.40M176.40,254.76H175.20M15.20,239.21H16.40M176.40,239.21H175.20M15.20,225.30H16.40M176.40,225.30H175.20M15.20,212.72H16.40M176.40,212.72H175.20M15.20,201.23H16.40M176.40,201.23H175.20M15.20,190.66H16.40M176.40,190.66H175.20M15.20,180.88H16.40M176.40,180.88H175.20M15.20,171.77H16.40M176.40,171.77H175.20M15.20,163.25H16.40M176.40,163.25H175.20M15.20,155.24H16.40M176.40,155.24H175.20M15.20,147.70H16.40M176.40,147.70H175.20" stroke="#a4a4a4" stroke-width="0.5" fill="none"/>
<path d="M15.20,258.10H16.00M176.40,258.10H175.60M15.20,251.50H16.00M176.40,251.50H175.60M15.20,248.32H16.00M176.40,248.32H175.60M15.20,245.21H16.00M176.40,245.21H175.60M15.20,242.18H16.00M176.40,242.18H175.60M15.20,236.31H16.00M176.40,236.31H175.60M15.20,233.47H16.00M176.40,233.47H175.60M15.20,230.69H16.00M176.40,230.69H175.60M15.20,227.97H16.00M176.40,227.97H175.60M15.20,222.69H16.00M176.40,222.69H175.60M15.20,220.12H16.00M176.40,220.12H175.60M15.20,217.61H16.00M176.40,217.61H175.60M15.20,215.14H16.00M176.40,215.14H175.60M15.20,210.34H16.00M176.40,210.34H175.60M15.20,208.00H16.00M176.40,208.00H175.60M15.20,205.70H16.00M176.40,205.70H175.60M15.20,203.45H16.00M176.40,203.45H175.60M15.20,199.05H16.00M176.40,199.05H175.60M15.20,196.90H16.00M176.40,196.90H175.60M15.20,194.79H16.00M176.40,194.79H175.60M15.20,192.71H16.00M176.40,192.71H175.60M15.20,188.65H16.00M176.40,188.65H175.60M15.20,186.66H16.00M176.40,186.66H175.60M15.20,184.70H16.00M176.40,184.70H175.60M15.20,182.78H16.00M176.40,182.78H175.60M15.20,179.00H16.00M176.40,179.00H175.60M15.20,177.16H16.00M176.40,177.16H175.60M15.20,175.34H16.00M176.40,175.34H175.60M15.20,173.54H16.00M176.40,173.54H175.60M15.20,170.02H16.00M176.40,170.02H175.60M15.20,168.29H16.00M176.40,168.29H175.60M15.20,166.59H16.00M176.40,166.59H175.60M15.20,164.91H16.00M176.40,164.91H175.60M15.20,161.61H16.00M176.40,161.61H175.60M15.20,159.99H16.00M176.40,159.99H175.60M15.20,158.39H16.00M176.40,158.39H175.60M15.20,156.81H16.00M176.40,156.81H175.60M15.20,153.70H16.00M176.40,153.70H175.60M15.20,152.17H16.00M176.40,152.17H175.60M15.20,150.66H16.00M176.40,150.66H175.60M15.20,149.17H16.00M176.40,149.17H175.60M15.20,146.24H16.00M176.40,146.24H175.60" stroke="#a4a4a4" stroke-width="0.45" fill="none"/>
<g clip-path="url(#c4)" fill="none" stroke-width="1.40" stroke-linejoin="round" stroke-linecap="round">
<path d="M15.30,147.00 C17.83,151.92 20.37,156.15 22.90,158.00 C25.27,159.73 27.63,160.90 30.00,161.50 C38.47,163.66 46.93,164.25 55.40,165.30 C63.87,166.35 72.33,167.25 80.80,168.00 C85.53,168.42 90.27,168.73 95.00,169.10 C102.83,169.72 110.67,170.12 118.50,171.00 C120.67,171.24 122.83,171.54 125.00,172.00 C128.33,172.71 131.67,173.95 135.00,175.80 C136.67,176.73 138.33,178.63 140.00,180.20 C141.67,181.77 143.33,183.42 145.00,185.30 C146.67,187.18 148.33,189.39 150.00,191.60 C151.67,193.81 153.33,196.54 155.00,198.60 C157.00,201.07 159.00,203.46 161.00,205.20 C163.00,206.94 165.00,208.46 167.00,209.50 C170.10,211.12 173.20,212.57 176.30,213.20" stroke="#1ebcd4" stroke-width="1.40"/>
<path d="M15.30,147.00 C15.63,147.89 15.97,148.92 16.30,149.50 C18.50,153.31 20.70,155.60 22.90,157.10 C25.27,158.71 27.63,159.88 30.00,160.50 C38.47,162.72 46.93,163.47 55.40,164.50 C63.87,165.53 72.33,166.19 80.80,167.00 C90.53,167.93 100.27,168.94 110.00,169.70 C112.83,169.92 115.67,170.04 118.50,170.30 C126.37,171.01 134.23,172.62 142.10,173.80 C148.07,174.69 154.03,175.69 160.00,176.50 C165.43,177.23 170.87,177.91 176.30,178.50" stroke="#18e0a2" stroke-width="1.40"/>
<path d="M15.30,147.00 C15.63,148.71 15.97,150.84 16.30,151.70 C18.50,157.39 20.70,159.45 22.90,161.50 C25.27,163.71 27.63,164.51 30.00,166.30 C33.33,168.82 36.67,172.26 40.00,175.00 C46.67,180.48 53.33,185.14 60.00,190.40 C66.67,195.66 73.33,201.91 80.00,206.60 C84.00,209.41 88.00,211.51 92.00,214.20 C101.33,220.47 110.67,229.22 120.00,234.60 C126.67,238.44 133.33,240.97 140.00,244.30 C145.00,246.80 150.00,249.96 155.00,252.00 C158.37,253.38 161.73,254.46 165.10,255.50 C168.83,256.65 172.57,257.70 176.30,258.60" stroke="#bab48e" stroke-width="1.20"/>
<path d="M15.30,147.00 C15.63,148.71 15.97,150.90 16.30,151.70 C18.50,156.95 20.70,157.87 22.90,160.40 C25.27,163.12 27.63,166.18 30.00,167.60 C33.33,169.59 36.67,170.52 40.00,171.70 C46.67,174.05 53.33,175.59 60.00,177.70 C66.67,179.81 73.33,182.03 80.00,184.40 C86.67,186.77 93.33,189.55 100.00,192.00 C106.67,194.45 113.33,196.07 120.00,199.10 C126.67,202.13 133.33,207.66 140.00,211.70 C145.00,214.73 150.00,217.20 155.00,220.50 C158.37,222.72 161.73,225.34 165.10,228.00 C168.83,230.95 172.57,234.13 176.30,237.50" stroke="#94c9ec" stroke-width="1.20"/>
<path d="M15.30,147.00 C16.20,148.87 17.10,150.75 18.00,152.00 C20.33,155.25 22.67,157.30 25.00,159.30 C26.67,160.73 28.33,162.19 30.00,163.00 C34.00,164.94 38.00,166.14 42.00,167.00 C46.47,167.96 50.93,168.46 55.40,169.10 C60.93,169.90 66.47,170.67 72.00,171.30 C74.93,171.63 77.87,171.92 80.80,172.20 C85.53,172.66 90.27,173.05 95.00,173.50 C102.83,174.24 110.67,175.06 118.50,175.80 C120.67,176.00 122.83,176.29 125.00,176.40 C133.33,176.84 141.67,176.89 150.00,177.20 C158.77,177.53 167.53,177.94 176.30,178.40" stroke="#9284da" stroke-width="1.20"/>
<path d="M15.30,147.00 C16.37,152.46 17.43,157.48 18.50,160.40 C19.97,164.42 21.43,166.70 22.90,169.10 C23.93,170.79 24.97,172.81 26.00,173.50 C27.33,174.39 28.67,174.96 30.00,175.20 C33.33,175.79 36.67,175.76 40.00,176.20 C46.67,177.07 53.33,178.59 60.00,180.50 C66.67,182.41 73.33,185.52 80.00,189.10 C86.67,192.68 93.33,198.38 100.00,203.40 C106.67,208.42 113.33,214.51 120.00,219.30 C126.67,224.09 133.33,228.64 140.00,232.40 C145.00,235.22 150.00,238.11 155.00,239.90 C158.37,241.11 161.73,242.06 165.10,242.80 C168.83,243.63 172.57,244.35 176.30,244.80" stroke="#f03e3e" stroke-width="1.35"/>
</g>
<text transform="translate(31.32,265.55) scale(0.92,1.08)" font-size="4.40" text-anchor="middle" fill="#2a2a2a">50</text>
<text transform="translate(47.44,265.55) scale(0.92,1.08)" font-size="4.40" text-anchor="middle" fill="#2a2a2a">100</text>
<text transform="translate(63.56,265.55) scale(0.92,1.08)" font-size="4.40" text-anchor="middle" fill="#2a2a2a">150</text>
<text transform="translate(79.68,265.55) scale(0.92,1.08)" font-size="4.40" text-anchor="middle" fill="#2a2a2a">200</text>
<text transform="translate(95.80,265.55) scale(0.92,1.08)" font-size="4.40" text-anchor="middle" fill="#2a2a2a">250</text>
<text transform="translate(111.92,265.55) scale(0.92,1.08)" font-size="4.40" text-anchor="middle" fill="#2a2a2a">300</text>
<text transform="translate(128.04,265.55) scale(0.92,1.08)" font-size="4.40" text-anchor="middle" fill="#2a2a2a">350</text>
<text transform="translate(144.16,265.55) scale(0.92,1.08)" font-size="4.40" text-anchor="middle" fill="#2a2a2a">400</text>
<text transform="translate(160.28,265.55) scale(0.92,1.08)" font-size="4.40" text-anchor="middle" fill="#2a2a2a">450</text>
<text transform="translate(176.40,265.55) scale(0.92,1.08)" font-size="4.40" text-anchor="middle" fill="#2a2a2a">500</text>
<text transform="translate(13.90,256.41) scale(0.92,1.08)" font-size="4.40" text-anchor="end" fill="#2a2a2a">0.8</text>
<text transform="translate(13.90,240.86) scale(0.92,1.08)" font-size="4.40" text-anchor="end" fill="#2a2a2a">0.9</text>
<text transform="translate(13.90,226.95) scale(0.92,1.08)" font-size="4.40" text-anchor="end" fill="#2a2a2a">1</text>
<text transform="translate(13.90,214.37) scale(0.92,1.08)" font-size="4.40" text-anchor="end" fill="#2a2a2a">1.1</text>
<text transform="translate(13.90,202.88) scale(0.92,1.08)" font-size="4.40" text-anchor="end" fill="#2a2a2a">1.2</text>
<text transform="translate(13.90,192.31) scale(0.92,1.08)" font-size="4.40" text-anchor="end" fill="#2a2a2a">1.3</text>
<text transform="translate(13.90,182.53) scale(0.92,1.08)" font-size="4.40" text-anchor="end" fill="#2a2a2a">1.4</text>
<text transform="translate(13.90,173.42) scale(0.92,1.08)" font-size="4.40" text-anchor="end" fill="#2a2a2a">1.5</text>
<text transform="translate(13.90,164.90) scale(0.92,1.08)" font-size="4.40" text-anchor="end" fill="#2a2a2a">1.6</text>
<text transform="translate(13.90,156.89) scale(0.92,1.08)" font-size="4.40" text-anchor="end" fill="#2a2a2a">1.7</text>
<text transform="translate(13.90,149.35) scale(0.92,1.08)" font-size="4.40" text-anchor="end" fill="#2a2a2a">1.8</text>
<text transform="translate(95.80,143.30)" font-size="5.00" text-anchor="middle" fill="#262626" style="stroke-width:0.08px">F10</text>
<text transform="translate(95.80,272.10) scale(1,1.03)" font-size="4.80" text-anchor="middle" fill="#2a2a2a">Iteration</text>
<text transform="translate(5.50,200.00) rotate(-90)" font-size="4.95" text-anchor="middle" fill="#2a2a2a">Best Fitness Value</text>
<rect x="147.30" y="148.20" width="26.30" height="32.00" fill="#fff" stroke="#a4a4a4" stroke-width="0.5"/>
<line x1="148.20" y1="151.62" x2="160.90" y2="151.62" stroke="#1ebcd4" stroke-width="1.33"/>
<text transform="translate(162.30,153.12) scale(0.97,1.12)" font-size="4.00" fill="#2a2a2a">GRO</text>
<line x1="148.20" y1="156.78" x2="160.90" y2="156.78" stroke="#18e0a2" stroke-width="1.33"/>
<text transform="translate(162.30,158.28) scale(0.97,1.12)" font-size="4.00" fill="#2a2a2a">LO</text>
<line x1="148.20" y1="161.93" x2="160.90" y2="161.93" stroke="#bab48e" stroke-width="1.14"/>
<text transform="translate(162.30,163.43) scale(0.97,1.12)" font-size="4.00" fill="#2a2a2a">PSO</text>
<line x1="148.20" y1="167.08" x2="160.90" y2="167.08" stroke="#94c9ec" stroke-width="1.14"/>
<text transform="translate(162.30,168.58) scale(0.97,1.12)" font-size="4.00" fill="#2a2a2a">SWO</text>
<line x1="148.20" y1="172.23" x2="160.90" y2="172.23" stroke="#9284da" stroke-width="1.14"/>
<text transform="translate(162.30,173.73) scale(0.97,1.12)" font-size="4.00" fill="#2a2a2a">KOA</text>
<line x1="148.20" y1="177.38" x2="160.90" y2="177.38" stroke="#f03e3e" stroke-width="1.28"/>
<text transform="translate(162.30,178.88) scale(0.97,1.12)" font-size="4.00" fill="#2a2a2a">ILO</text>
<text transform="translate(16.20,143.80) rotate(-15)" font-size="3.96" fill="#2a2a2a">&#215;10<tspan font-size="2.86" dy="-1.5">4</tspan></text>
<clipPath id="c5"><rect x="195.60" y="144.30" width="165.40" height="118.00"/></clipPath>
<path d="M196.30,258.38H360.30M196.30,253.22H360.30M196.30,249.56H360.30M196.30,246.72H360.30M196.30,244.40H360.30M196.30,242.44H360.30M196.30,240.74H360.30M196.30,239.24H360.30M196.30,229.08H360.30M196.30,223.92H360.30M196.30,220.26H360.30M196.30,217.42H360.30M196.30,215.10H360.30M196.30,213.14H360.30M196.30,211.44H360.30M196.30,209.94H360.30M196.30,199.78H360.30M196.30,194.62H360.30M196.30,190.96H360.30M196.30,188.12H360.30M196.30,185.80H360.30M196.30,183.84H360.30M196.30,182.14H360.30M196.30,180.64H360.30M196.30,170.48H360.30M196.30,165.32H360.30M196.30,161.66H360.30M196.30,158.82H360.30M196.30,156.50H360.30M196.30,154.54H360.30M196.30,152.84H360.30M196.30,151.34H360.30" stroke="#eaeaea" stroke-width="0.5" fill="none"/>
<path d="M212.70,145.00V261.60M229.10,145.00V261.60M245.50,145.00V261.60M261.90,145.00V261.60M278.30,145.00V261.60M294.70,145.00V261.60M311.10,145.00V261.60M327.50,145.00V261.60M343.90,145.00V261.60M196.30,237.90H360.30M196.30,208.60H360.30M196.30,179.30H360.30M196.30,150.00H360.30" stroke="#efefef" stroke-width="0.5" fill="none"/>
<rect x="196.30" y="145.00" width="164.00" height="116.60" fill="none" stroke="#a4a4a4" stroke-width="0.9"/>
<path d="M212.70,261.60V260.40M212.70,145.00V146.20M229.10,261.60V260.40M229.10,145.00V146.20M245.50,261.60V260.40M245.50,145.00V146.20M261.90,261.60V260.40M261.90,145.00V146.20M278.30,261.60V260.40M278.30,145.00V146.20M294.70,261.60V260.40M294.70,145.00V146.20M311.10,261.60V260.40M311.10,145.00V146.20M327.50,261.60V260.40M327.50,145.00V146.20M343.90,261.60V260.40M343.90,145.00V146.20M196.30,237.90H197.50M360.30,237.90H359.10M196.30,208.60H197.50M360.30,208.60H359.10M196.30,179.30H197.50M360.30,179.30H359.10M196.30,150.00H197.50M360.30,150.00H359.10" stroke="#a4a4a4" stroke-width="0.5" fill="none"/>
<path d="M196.30,258.38H197.10M360.30,258.38H359.50M196.30,253.22H197.10M360.30,253.22H359.50M196.30,249.56H197.10M360.30,249.56H359.50M196.30,246.72H197.10M360.30,246.72H359.50M196.30,244.40H197.10M360.30,244.40H359.50M196.30,242.44H197.10M360.30,242.44H359.50M196.30,240.74H197.10M360.30,240.74H359.50M196.30,239.24H197.10M360.30,239.24H359.50M196.30,229.08H197.10M360.30,229.08H359.50M196.30,223.92H197.10M360.30,223.92H359.50M196.30,220.26H197.10M360.30,220.26H359.50M196.30,217.42H197.10M360.30,217.42H359.50M196.30,215.10H197.10M360.30,215.10H359.50M196.30,213.14H197.10M360.30,213.14H359.50M196.30,211.44H197.10M360.30,211.44H359.50M196.30,209.94H197.10M360.30,209.94H359.50M196.30,199.78H197.10M360.30,199.78H359.50M196.30,194.62H197.10M360.30,194.62H359.50M196.30,190.96H197.10M360.30,190.96H359.50M196.30,188.12H197.10M360.30,188.12H359.50M196.30,185.80H197.10M360.30,185.80H359.50M196.30,183.84H197.10M360.30,183.84H359.50M196.30,182.14H197.10M360.30,182.14H359.50M196.30,180.64H197.10M360.30,180.64H359.50M196.30,170.48H197.10M360.30,170.48H359.50M196.30,165.32H197.10M360.30,165.32H359.50M196.30,161.66H197.10M360.30,161.66H359.50M196.30,158.82H197.10M360.30,158.82H359.50M196.30,156.50H197.10M360.30,156.50H359.50M196.30,154.54H197.10M360.30,154.54H359.50M196.30,152.84H197.10M360.30,152.84H359.50M196.30,151.34H197.10M360.30,151.34H359.50" stroke="#a4a4a4" stroke-width="0.45" fill="none"/>
<g clip-path="url(#c5)" fill="none" stroke-width="1.40" stroke-linejoin="round" stroke-linecap="round">
<path d="M196.60,145.00 L196.60,213.00 C197.73,214.62 198.87,216.34 200.00,217.40 C204.13,221.28 208.27,224.30 212.40,225.70 C216.53,227.10 220.67,227.56 224.80,228.50 C229.87,229.65 234.93,230.93 240.00,232.00 C248.33,233.76 256.67,235.17 265.00,236.80 C271.67,238.11 278.33,239.25 285.00,240.80 C293.33,242.73 301.67,246.46 310.00,247.80 C317.33,248.97 324.67,249.84 332.00,250.30 C341.40,250.89 350.80,251.48 360.20,251.50" stroke="#1ebcd4" stroke-width="1.40"/>
<path d="M196.60,190.00 L196.60,211.80 C197.73,212.28 198.87,212.76 200.00,213.30 C204.13,215.26 208.27,218.62 212.40,219.90 C216.53,221.18 220.67,221.68 224.80,222.60 C229.87,223.73 234.93,225.00 240.00,226.10 C248.33,227.91 256.67,229.61 265.00,231.20 C271.67,232.47 278.33,233.68 285.00,234.80 C293.33,236.20 301.67,237.53 310.00,238.70 C321.37,240.29 332.73,241.50 344.10,243.00 C349.47,243.71 354.83,244.45 360.20,245.20" stroke="#18e0a2" stroke-width="1.40"/>
<path d="M196.60,195.00 L196.60,213.00 C197.73,215.42 198.87,218.02 200.00,219.50 C204.13,224.88 208.27,227.53 212.40,230.50 C216.53,233.47 220.67,235.86 224.80,238.00 C229.87,240.62 234.93,243.05 240.00,244.80 C248.33,247.68 256.67,249.87 265.00,251.60 C271.67,252.98 278.33,254.32 285.00,255.00 C293.33,255.86 301.67,256.36 310.00,256.80 C326.73,257.69 343.47,258.49 360.20,258.80" stroke="#bab48e" stroke-width="1.20"/>
<path d="M196.60,195.00 L196.60,213.00 C197.73,214.85 198.87,216.85 200.00,218.00 C204.13,222.21 208.27,224.81 212.40,226.70 C221.60,230.90 230.80,232.70 240.00,235.40 C248.33,237.85 256.67,239.80 265.00,242.30 C271.67,244.30 278.33,247.26 285.00,248.80 C293.33,250.72 301.67,251.67 310.00,253.20 C317.33,254.54 324.67,256.91 332.00,257.40 C341.40,258.03 350.80,258.50 360.20,258.50" stroke="#94c9ec" stroke-width="1.20"/>
<path d="M196.60,168.50 L196.60,213.00 C197.73,214.62 198.87,216.34 200.00,217.40 C204.13,221.28 208.27,223.81 212.40,225.70 C216.53,227.59 220.67,228.39 224.80,230.00 C229.87,231.97 234.93,234.88 240.00,236.80 C248.33,239.95 256.67,242.18 265.00,244.80 C271.67,246.90 278.33,249.35 285.00,251.00 C293.33,253.07 301.67,255.20 310.00,256.10 C326.73,257.90 343.47,259.50 360.20,259.50" stroke="#9284da" stroke-width="1.20"/>
<path d="M196.70,191.00 L196.70,213.00 C196.90,214.87 197.10,216.59 197.30,218.00 C197.57,219.87 197.83,221.57 198.10,222.80 C198.63,225.25 199.17,226.98 199.70,228.50 C200.53,230.88 201.37,232.75 202.20,234.30 C203.27,236.28 204.33,238.04 205.40,239.20 C207.03,240.98 208.67,242.22 210.30,243.20 C215.13,246.09 219.97,247.69 224.80,249.50 C229.87,251.40 234.93,253.55 240.00,254.50 C248.33,256.06 256.67,256.74 265.00,257.60 C271.67,258.29 278.33,259.14 285.00,259.40 C293.33,259.72 301.67,259.83 310.00,260.00 C326.73,260.35 343.47,260.67 360.20,260.90" stroke="#f03e3e" stroke-width="1.35"/>
</g>
<text transform="translate(212.70,268.15) scale(0.92,1.08)" font-size="4.40" text-anchor="middle" fill="#2a2a2a">50</text>
<text transform="translate(229.10,268.15) scale(0.92,1.08)" font-size="4.40" text-anchor="middle" fill="#2a2a2a">100</text>
<text transform="translate(245.50,268.15) scale(0.92,1.08)" font-size="4.40" text-anchor="middle" fill="#2a2a2a">150</text>
<text transform="translate(261.90,268.15) scale(0.92,1.08)" font-size="4.40" text-anchor="middle" fill="#2a2a2a">200</text>
<text transform="translate(278.30,268.15) scale(0.92,1.08)" font-size="4.40" text-anchor="middle" fill="#2a2a2a">250</text>
<text transform="translate(294.70,268.15) scale(0.92,1.08)" font-size="4.40" text-anchor="middle" fill="#2a2a2a">300</text>
<text transform="translate(311.10,268.15) scale(0.92,1.08)" font-size="4.40" text-anchor="middle" fill="#2a2a2a">350</text>
<text transform="translate(327.50,268.15) scale(0.92,1.08)" font-size="4.40" text-anchor="middle" fill="#2a2a2a">400</text>
<text transform="translate(343.90,268.15) scale(0.92,1.08)" font-size="4.40" text-anchor="middle" fill="#2a2a2a">450</text>
<text transform="translate(360.30,268.15) scale(0.92,1.08)" font-size="4.40" text-anchor="middle" fill="#2a2a2a">500</text>
<text transform="translate(194.80,240.95) rotate(-15) scale(0.92,1.08)" font-size="4.40" text-anchor="end" fill="#2a2a2a">10<tspan font-size="3.08" dy="-1.6">4</tspan></text>
<text transform="translate(194.80,211.65) rotate(-15) scale(0.92,1.08)" font-size="4.40" text-anchor="end" fill="#2a2a2a">10<tspan font-size="3.08" dy="-1.6">5</tspan></text>
<text transform="translate(194.80,182.35) rotate(-15) scale(0.92,1.08)" font-size="4.40" text-anchor="end" fill="#2a2a2a">10<tspan font-size="3.08" dy="-1.6">6</tspan></text>
<text transform="translate(194.80,153.05) rotate(-15) scale(0.92,1.08)" font-size="4.40" text-anchor="end" fill="#2a2a2a">10<tspan font-size="3.08" dy="-1.6">7</tspan></text>
<text transform="translate(278.30,143.70)" font-size="5.00" text-anchor="middle" fill="#262626" style="stroke-width:0.08px">F11</text>
<text transform="translate(278.30,275.10) scale(1,1.03)" font-size="4.80" text-anchor="middle" fill="#2a2a2a">Iteration</text>
<text transform="translate(186.30,201.00) rotate(-90)" font-size="4.95" text-anchor="middle" fill="#2a2a2a">Best Fitness Value</text>
<rect x="330.50" y="148.30" width="25.40" height="32.60" fill="#fff" stroke="#a4a4a4" stroke-width="0.5"/>
<line x1="331.40" y1="151.79" x2="344.10" y2="151.79" stroke="#1ebcd4" stroke-width="1.33"/>
<text transform="translate(345.50,153.29) scale(0.97,1.12)" font-size="4.00" fill="#2a2a2a">GRO</text>
<line x1="331.40" y1="157.04" x2="344.10" y2="157.04" stroke="#18e0a2" stroke-width="1.33"/>
<text transform="translate(345.50,158.54) scale(0.97,1.12)" font-size="4.00" fill="#2a2a2a">LO</text>
<line x1="331.40" y1="162.29" x2="344.10" y2="162.29" stroke="#bab48e" stroke-width="1.14"/>
<text transform="translate(345.50,163.79) scale(0.97,1.12)" font-size="4.00" fill="#2a2a2a">PSO</text>
<line x1="331.40" y1="167.53" x2="344.10" y2="167.53" stroke="#94c9ec" stroke-width="1.14"/>
<text transform="translate(345.50,169.03) scale(0.97,1.12)" font-size="4.00" fill="#2a2a2a">SWO</text>
<line x1="331.40" y1="172.78" x2="344.10" y2="172.78" stroke="#9284da" stroke-width="1.14"/>
<text transform="translate(345.50,174.28) scale(0.97,1.12)" font-size="4.00" fill="#2a2a2a">KOA</text>
<line x1="331.40" y1="178.03" x2="344.10" y2="178.03" stroke="#f03e3e" stroke-width="1.28"/>
<text transform="translate(345.50,179.53) scale(0.97,1.12)" font-size="4.00" fill="#2a2a2a">ILO</text>
<clipPath id="c6"><rect x="380.80" y="146.70" width="161.40" height="115.60"/></clipPath>
<path d="M381.50,259.63H541.50M381.50,257.65H541.50M381.50,255.97H541.50M381.50,254.52H541.50M381.50,253.24H541.50M381.50,244.57H541.50M381.50,240.17H541.50M381.50,237.05H541.50M381.50,234.63H541.50M381.50,232.65H541.50M381.50,230.97H541.50M381.50,229.52H541.50M381.50,228.24H541.50M381.50,219.57H541.50M381.50,215.17H541.50M381.50,212.05H541.50M381.50,209.63H541.50M381.50,207.65H541.50M381.50,205.97H541.50M381.50,204.52H541.50M381.50,203.24H541.50M381.50,194.57H541.50M381.50,190.17H541.50M381.50,187.05H541.50M381.50,184.63H541.50M381.50,182.65H541.50M381.50,180.97H541.50M381.50,179.52H541.50M381.50,178.24H541.50M381.50,169.57H541.50M381.50,165.17H541.50M381.50,162.05H541.50M381.50,159.63H541.50M381.50,157.65H541.50M381.50,155.97H541.50M381.50,154.52H541.50M381.50,153.24H541.50" stroke="#eaeaea" stroke-width="0.5" fill="none"/>
<path d="M397.50,147.40V261.60M413.50,147.40V261.60M429.50,147.40V261.60M445.50,147.40V261.60M461.50,147.40V261.60M477.50,147.40V261.60M493.50,147.40V261.60M509.50,147.40V261.60M525.50,147.40V261.60M381.50,252.10H541.50M381.50,227.10H541.50M381.50,202.10H541.50M381.50,177.10H541.50M381.50,152.10H541.50" stroke="#efefef" stroke-width="0.5" fill="none"/>
<rect x="381.50" y="147.40" width="160.00" height="114.20" fill="none" stroke="#a4a4a4" stroke-width="0.9"/>
<path d="M397.50,261.60V260.40M397.50,147.40V148.60M413.50,261.60V260.40M413.50,147.40V148.60M429.50,261.60V260.40M429.50,147.40V148.60M445.50,261.60V260.40M445.50,147.40V148.60M461.50,261.60V260.40M461.50,147.40V148.60M477.50,261.60V260.40M477.50,147.40V148.60M493.50,261.60V260.40M493.50,147.40V148.60M509.50,261.60V260.40M509.50,147.40V148.60M525.50,261.60V260.40M525.50,147.40V148.60M381.50,252.10H382.70M541.50,252.10H540.30M381.50,227.10H382.70M541.50,227.10H540.30M381.50,202.10H382.70M541.50,202.10H540.30M381.50,177.10H382.70M541.50,177.10H540.30M381.50,152.10H382.70M541.50,152.10H540.30" stroke="#a4a4a4" stroke-width="0.5" fill="none"/>
<path d="M381.50,259.63H382.30M541.50,259.63H540.70M381.50,257.65H382.30M541.50,257.65H540.70M381.50,255.97H382.30M541.50,255.97H540.70M381.50,254.52H382.30M541.50,254.52H540.70M381.50,253.24H382.30M541.50,253.24H540.70M381.50,244.57H382.30M541.50,244.57H540.70M381.50,240.17H382.30M541.50,240.17H540.70M381.50,237.05H382.30M541.50,237.05H540.70M381.50,234.63H382.30M541.50,234.63H540.70M381.50,232.65H382.30M541.50,232.65H540.70M381.50,230.97H382.30M541.50,230.97H540.70M381.50,229.52H382.30M541.50,229.52H540.70M381.50,228.24H382.30M541.50,228.24H540.70M381.50,219.57H382.30M541.50,219.57H540.70M381.50,215.17H382.30M541.50,215.17H540.70M381.50,212.05H382.30M541.50,212.05H540.70M381.50,209.63H382.30M541.50,209.63H540.70M381.50,207.65H382.30M541.50,207.65H540.70M381.50,205.97H382.30M541.50,205.97H540.70M381.50,204.52H382.30M541.50,204.52H540.70M381.50,203.24H382.30M541.50,203.24H540.70M381.50,194.57H382.30M541.50,194.57H540.70M381.50,190.17H382.30M541.50,190.17H540.70M381.50,187.05H382.30M541.50,187.05H540.70M381.50,184.63H382.30M541.50,184.63H540.70M381.50,182.65H382.30M541.50,182.65H540.70M381.50,180.97H382.30M541.50,180.97H540.70M381.50,179.52H382.30M541.50,179.52H540.70M381.50,178.24H382.30M541.50,178.24H540.70M381.50,169.57H382.30M541.50,169.57H540.70M381.50,165.17H382.30M541.50,165.17H540.70M381.50,162.05H382.30M541.50,162.05H540.70M381.50,159.63H382.30M541.50,159.63H540.70M381.50,157.65H382.30M541.50,157.65H540.70M381.50,155.97H382.30M541.50,155.97H540.70M381.50,154.52H382.30M541.50,154.52H540.70M381.50,153.24H382.30M541.50,153.24H540.70" stroke="#a4a4a4" stroke-width="0.45" fill="none"/>
<g clip-path="url(#c6)" fill="none" stroke-width="1.40" stroke-linejoin="round" stroke-linecap="round">
<path d="M381.80,149.50 C383.43,152.51 385.07,155.34 386.70,158.00 C388.13,160.33 389.57,163.10 391.00,164.60 C393.90,167.63 396.80,169.59 399.70,171.10 C403.33,173.00 406.97,173.95 410.60,175.40 C414.23,176.85 417.87,178.34 421.50,179.80 C425.10,181.24 428.70,182.69 432.30,184.10 C434.37,184.91 436.43,185.55 438.50,186.50 C441.33,187.81 444.17,189.67 447.00,191.50 C449.67,193.22 452.33,195.73 455.00,197.20 C456.67,198.12 458.33,198.56 460.00,199.50 C465.00,202.31 470.00,209.71 475.00,211.70 C481.67,214.35 488.33,215.54 495.00,216.80 C503.33,218.38 511.67,219.36 520.00,220.50 C527.10,221.47 534.20,222.37 541.30,223.20" stroke="#1ebcd4" stroke-width="1.40"/>
<path d="M381.80,149.50 C382.33,151.45 382.87,153.49 383.40,154.80 C385.23,159.30 387.07,161.79 388.90,164.60 C391.07,167.93 393.23,170.99 395.40,173.30 C398.30,176.40 401.20,178.64 404.10,180.90 C407.73,183.73 411.37,186.30 415.00,188.50 C418.60,190.68 422.20,192.62 425.80,194.30 C429.43,196.00 433.07,197.23 436.70,198.80 C442.80,201.44 448.90,205.50 455.00,207.20 C456.67,207.66 458.33,207.92 460.00,208.30 C465.00,209.44 470.00,210.56 475.00,211.90 C481.67,213.68 488.33,216.46 495.00,218.00 C503.33,219.93 511.67,220.80 520.00,222.60 C527.10,224.13 534.20,226.02 541.30,228.10" stroke="#18e0a2" stroke-width="1.40"/>
<path d="M381.80,149.50 C382.70,156.21 383.60,162.26 384.50,166.70 C385.60,172.12 386.70,177.20 387.80,179.80 C388.87,182.32 389.93,184.13 391.00,185.20 C393.20,187.41 395.40,188.45 397.60,189.60 C400.50,191.12 403.40,192.32 406.30,193.30 C409.90,194.52 413.50,195.71 417.10,196.30 C422.17,197.13 427.23,197.75 432.30,198.00 C441.53,198.45 450.77,198.70 460.00,198.80 C487.10,199.11 514.20,199.30 541.30,199.30" stroke="#bab48e" stroke-width="1.20"/>
<path d="M381.80,149.50 C383.43,152.24 385.07,154.86 386.70,157.00 C389.60,160.80 392.50,164.08 395.40,166.70 C398.30,169.32 401.20,170.93 404.10,173.30 C407.73,176.27 411.37,180.17 415.00,183.00 C418.60,185.81 422.20,188.01 425.80,190.50 C428.70,192.51 431.60,194.60 434.50,196.50 C438.00,198.79 441.50,201.04 445.00,203.00 C448.33,204.86 451.67,206.67 455.00,208.10 C456.67,208.81 458.33,209.25 460.00,210.00 C465.00,212.24 470.00,216.46 475.00,219.00 C481.67,222.39 488.33,225.35 495.00,227.70 C503.33,230.63 511.67,232.68 520.00,235.00 C527.10,236.98 534.20,238.88 541.30,240.70" stroke="#94c9ec" stroke-width="1.20"/>
<path d="M381.80,149.50 C382.70,154.76 383.60,159.80 384.50,162.40 C385.97,166.64 387.43,168.17 388.90,171.10 C390.33,173.97 391.77,177.35 393.20,179.80 C394.67,182.31 396.13,184.37 397.60,186.30 C399.77,189.15 401.93,191.56 404.10,193.90 C406.27,196.24 408.43,198.46 410.60,200.40 C412.07,201.71 413.53,202.96 415.00,204.00 C418.33,206.35 421.67,207.96 425.00,210.00 C429.80,212.94 434.60,216.27 439.40,219.00 C444.60,221.95 449.80,224.88 455.00,227.10 C456.67,227.81 458.33,228.34 460.00,229.00 C465.00,230.98 470.00,233.73 475.00,235.30 C481.67,237.39 488.33,238.71 495.00,240.20 C503.33,242.06 511.67,243.69 520.00,245.30 C527.10,246.67 534.20,247.97 541.30,249.20" stroke="#9284da" stroke-width="1.20"/>
<path d="M381.80,149.50 C382.33,156.30 382.87,163.08 383.40,166.70 C384.50,174.17 385.60,177.31 386.70,182.00 C387.80,186.69 388.90,191.64 390.00,195.00 C391.07,198.26 392.13,200.53 393.20,203.00 C394.23,205.39 395.27,207.55 396.30,209.70 C398.30,213.86 400.30,218.29 402.30,221.60 C404.77,225.68 407.23,229.40 409.70,232.00 C412.67,235.12 415.63,237.65 418.60,239.40 C422.57,241.73 426.53,243.31 430.50,244.70 C435.43,246.42 440.37,247.62 445.30,248.90 C450.20,250.17 455.10,251.47 460.00,252.40 C471.67,254.60 483.33,256.48 495.00,257.60 C510.43,259.08 525.87,260.43 541.30,260.80" stroke="#f03e3e" stroke-width="1.35"/>
</g>
<text transform="translate(397.50,267.95) scale(0.92,1.08)" font-size="4.40" text-anchor="middle" fill="#2a2a2a">50</text>
<text transform="translate(413.50,267.95) scale(0.92,1.08)" font-size="4.40" text-anchor="middle" fill="#2a2a2a">100</text>
<text transform="translate(429.50,267.95) scale(0.92,1.08)" font-size="4.40" text-anchor="middle" fill="#2a2a2a">150</text>
<text transform="translate(445.50,267.95) scale(0.92,1.08)" font-size="4.40" text-anchor="middle" fill="#2a2a2a">200</text>
<text transform="translate(461.50,267.95) scale(0.92,1.08)" font-size="4.40" text-anchor="middle" fill="#2a2a2a">250</text>
<text transform="translate(477.50,267.95) scale(0.92,1.08)" font-size="4.40" text-anchor="middle" fill="#2a2a2a">300</text>
<text transform="translate(493.50,267.95) scale(0.92,1.08)" font-size="4.40" text-anchor="middle" fill="#2a2a2a">350</text>
<text transform="translate(509.50,267.95) scale(0.92,1.08)" font-size="4.40" text-anchor="middle" fill="#2a2a2a">400</text>
<text transform="translate(525.50,267.95) scale(0.92,1.08)" font-size="4.40" text-anchor="middle" fill="#2a2a2a">450</text>
<text transform="translate(541.50,267.95) scale(0.92,1.08)" font-size="4.40" text-anchor="middle" fill="#2a2a2a">500</text>
<text transform="translate(380.00,255.15) scale(0.92,1.08)" font-size="4.40" text-anchor="end" fill="#2a2a2a">10<tspan font-size="3.08" dy="-1.6">7</tspan></text>
<text transform="translate(380.00,230.15) scale(0.92,1.08)" font-size="4.40" text-anchor="end" fill="#2a2a2a">10<tspan font-size="3.08" dy="-1.6">8</tspan></text>
<text transform="translate(380.00,205.15) scale(0.92,1.08)" font-size="4.40" text-anchor="end" fill="#2a2a2a">10<tspan font-size="3.08" dy="-1.6">9</tspan></text>
<text transform="translate(380.00,180.15) scale(0.92,1.08)" font-size="4.40" text-anchor="end" fill="#2a2a2a">10<tspan font-size="3.08" dy="-1.6">10</tspan></text>
<text transform="translate(380.00,155.15) scale(0.92,1.08)" font-size="4.40" text-anchor="end" fill="#2a2a2a">10<tspan font-size="3.08" dy="-1.6">11</tspan></text>
<text transform="translate(461.50,145.30)" font-size="5.00" text-anchor="middle" fill="#262626" style="stroke-width:0.08px">F12</text>
<text transform="translate(461.50,274.80) scale(1,1.03)" font-size="4.80" text-anchor="middle" fill="#2a2a2a">Iteration</text>
<text transform="translate(370.30,203.60) rotate(-90)" font-size="4.95" text-anchor="middle" fill="#2a2a2a">Best Fitness Value</text>
<rect x="511.70" y="150.00" width="24.70" height="31.80" fill="#fff" stroke="#a4a4a4" stroke-width="0.5"/>
<line x1="512.60" y1="153.40" x2="525.30" y2="153.40" stroke="#1ebcd4" stroke-width="1.33"/>
<text transform="translate(526.70,154.90) scale(0.97,1.12)" font-size="4.00" fill="#2a2a2a">GRO</text>
<line x1="512.60" y1="158.52" x2="525.30" y2="158.52" stroke="#18e0a2" stroke-width="1.33"/>
<text transform="translate(526.70,160.02) scale(0.97,1.12)" font-size="4.00" fill="#2a2a2a">LO</text>
<line x1="512.60" y1="163.64" x2="525.30" y2="163.64" stroke="#bab48e" stroke-width="1.14"/>
<text transform="translate(526.70,165.14) scale(0.97,1.12)" font-size="4.00" fill="#2a2a2a">PSO</text>
<line x1="512.60" y1="168.76" x2="525.30" y2="168.76" stroke="#94c9ec" stroke-width="1.14"/>
<text transform="translate(526.70,170.26) scale(0.97,1.12)" font-size="4.00" fill="#2a2a2a">SWO</text>
<line x1="512.60" y1="173.88" x2="525.30" y2="173.88" stroke="#9284da" stroke-width="1.14"/>
<text transform="translate(526.70,175.38) scale(0.97,1.12)" font-size="4.00" fill="#2a2a2a">KOA</text>
<line x1="512.60" y1="179.00" x2="525.30" y2="179.00" stroke="#f03e3e" stroke-width="1.28"/>
<text transform="translate(526.70,180.50) scale(0.97,1.12)" font-size="4.00" fill="#2a2a2a">ILO</text>
</svg>
</body></html>
